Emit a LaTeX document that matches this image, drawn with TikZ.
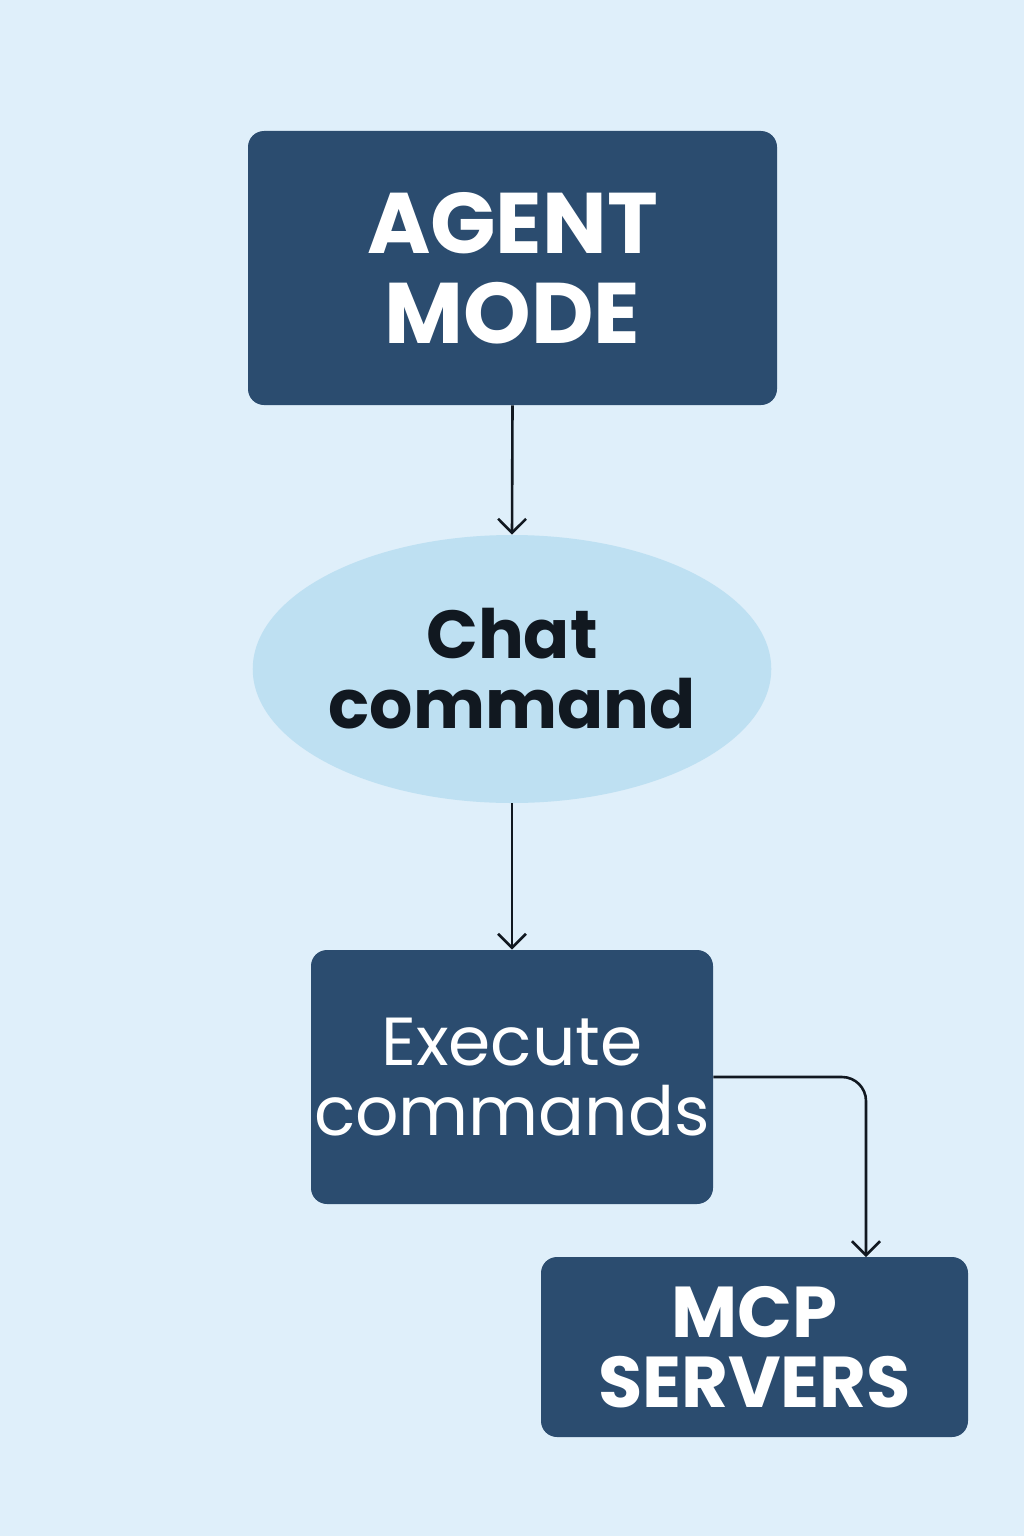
\documentclass[tikz,border=0pt]{standalone}
\usepackage{fontspec}
\setmainfont{Poppins}
\usetikzlibrary{shapes.geometric,arrows.meta}
\definecolor{bg}{HTML}{DFEFFA}
\definecolor{boxc}{HTML}{2B4C6F}
\definecolor{ellc}{HTML}{BEE0F2}
\definecolor{txt}{HTML}{111820}
\begin{document}
\begin{tikzpicture}[x=0.5pt,y=-0.5pt,
  box/.style={fill=boxc,rounded corners=8pt,text=white,align=center,inner sep=0pt},
  arr/.style={-{Straight Barb[length=7pt,width=14pt]},line width=1.3pt,color=txt}]
\fill[bg] (0,0) rectangle (1024,1536);
\useasboundingbox (0,0) rectangle (1024,1536);
\node[box,minimum width=264.5pt,minimum height=137pt,font=\fontsize{43}{45}\selectfont\bfseries] (agent) at (512.5,268) {AGENT\\MODE};
\node[ellipse,fill=ellc,minimum width=226pt,minimum height=134pt,inner sep=0pt,align=center,text=txt,font=\fontsize{34}{35}\selectfont\bfseries] (chat) at (512,669) {Chat\\command};
\node[box,minimum width=201pt,minimum height=127pt,font=\fontsize{34}{35}\selectfont] (exec) at (512,1077) {Execute\\commands};
\node[box,minimum width=213.5pt,minimum height=90pt,font=\fontsize{36}{35}\selectfont\bfseries] (mcp) at (754.5,1347) {MCP\\SERVERS};
\draw[arr] (agent.south) -- (chat.north);
\draw[arr] (chat.south) -- (exec.north);
\draw[arr,rounded corners=12pt] (exec.east) -- (866,1077) -- (866,1257);
\end{tikzpicture}
\end{document}
